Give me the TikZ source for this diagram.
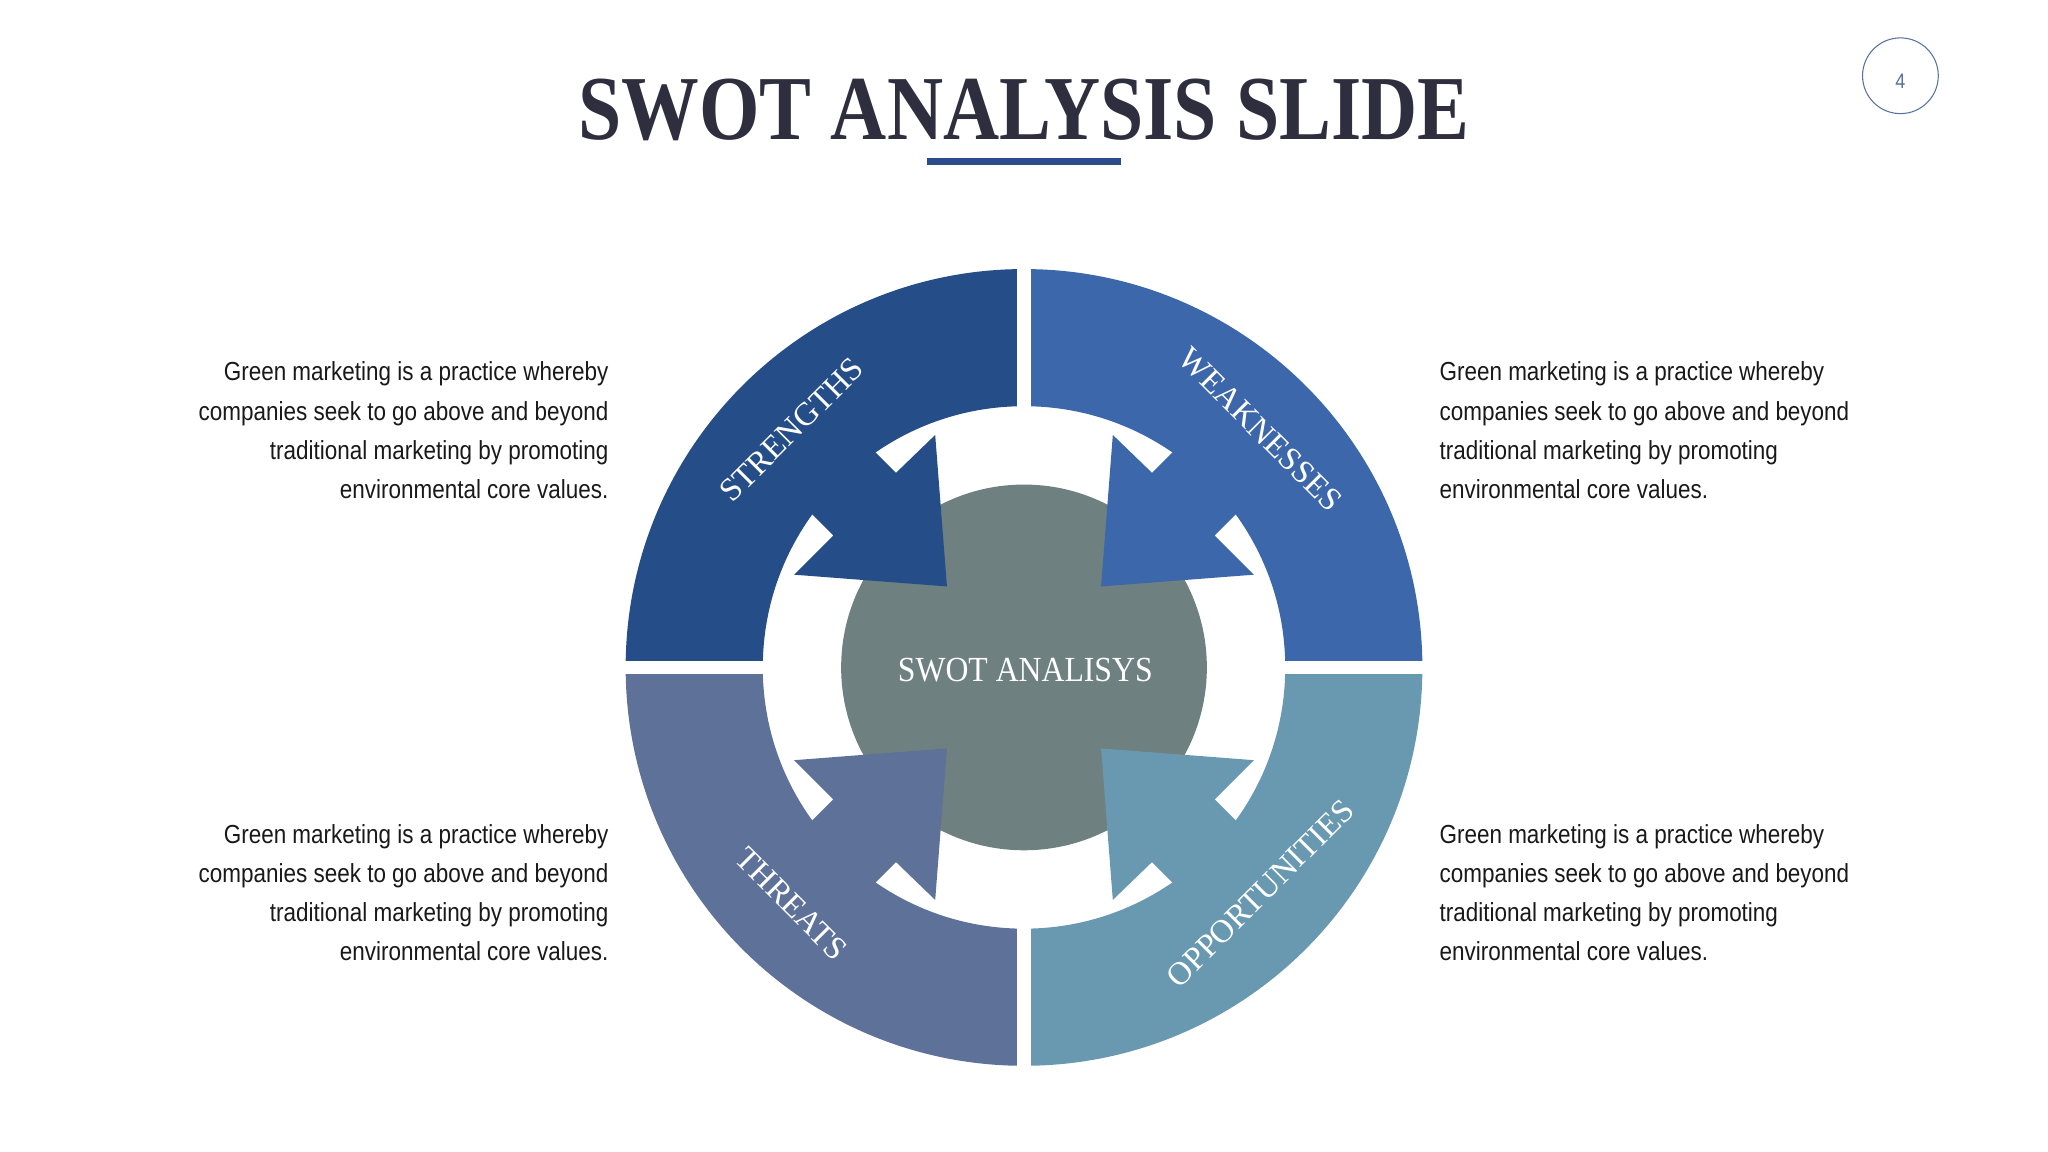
\documentclass[tikz,border=0pt]{standalone}
\usepackage{fontspec}
\setmainfont{Liberation Serif}
\newfontfamily\bodyf[FakeStretch=0.86]{Liberation Sans}
\newfontfamily\titlef[FakeStretch=0.85]{Liberation Serif}
\newfontfamily\centf[FakeStretch=0.9]{Liberation Serif}
\usetikzlibrary{calc}
\definecolor{cS}{HTML}{254E88}
\definecolor{cW}{HTML}{3D67AB}
\definecolor{cT}{HTML}{5E7299}
\definecolor{cO}{HTML}{6899B0}
\definecolor{cC}{HTML}{6E8080}
\definecolor{ctitle}{HTML}{2E2E3E}
\definecolor{cline}{HTML}{2B4C8A}
\tikzset{
 lbl/.style={text=white,font=\fontsize{25}{25}\selectfont},
 body/.style={font=\bodyf\fontsize{20}{30}\selectfont,text=black!90,inner sep=0pt},
 cut/.style={white,line width=10pt}
}
\begin{document}
\begin{tikzpicture}[x=1pt,y=-1pt]
\useasboundingbox[fill=white] (0,0) rectangle (1568,882);
\coordinate (C) at (784,511);
% title
\node[font=\titlef\bfseries\fontsize{70}{70}\selectfont,text=ctitle] (title) at (784,84) {SWOT ANALYSIS SLIDE};
\fill[cline] (710,121) rectangle (858,126);
\draw[cline!80,line width=0.8pt] (1455,58) circle[radius=29];
\node[font=\bodyf\fontsize{16}{16}\selectfont,text=cline!80] (pg) at (1455,62) {4};
% center
\fill[cC] (C) circle[radius=140];
\node[lbl,font=\centf\fontsize{27}{27}\selectfont] (center) at (785,513) {SWOT ANALISYS};
% arrows
\fill[cS] (725,449)--(608,440)--(638,410)--(610,382)--(658,334)--(686,362)--(716,333)--cycle;
\fill[cW] (843,449)--(960,440)--(930,410)--(958,382)--(910,334)--(882,362)--(852,333)--cycle;
\fill[cT] (725,573)--(608,582)--(638,612)--(610,640)--(658,688)--(686,660)--(716,689)--cycle;
\fill[cO] (843,573)--(960,582)--(930,612)--(958,640)--(910,688)--(882,660)--(852,689)--cycle;
% ring
\fill[cS] ($(C)+(180:305)$) arc[start angle=180,end angle=270,radius=305] -- ($(C)+(270:200)$) arc[start angle=270,end angle=180,radius=200] -- cycle;
\fill[cW] ($(C)+(270:305)$) arc[start angle=270,end angle=360,radius=305] -- ($(C)+(0:200)$) arc[start angle=360,end angle=270,radius=200] -- cycle;
\fill[cO] ($(C)+(0:305)$) arc[start angle=0,end angle=90,radius=305] -- ($(C)+(90:200)$) arc[start angle=90,end angle=0,radius=200] -- cycle;
\fill[cT] ($(C)+(90:305)$) arc[start angle=90,end angle=180,radius=305] -- ($(C)+(180:200)$) arc[start angle=180,end angle=90,radius=200] -- cycle;
\draw[cut] (784,200)--(784,316); \draw[cut] (784,706)--(784,822);
\draw[cut] (473,511)--(589,511); \draw[cut] (979,511)--(1095,511);
% labels
\node[lbl,rotate=45] (s) at (606,329) {STRENGTHS};
\node[lbl,rotate=-45] (w) at (965,329) {WEAKNESSES};
\node[lbl,rotate=-45] (t) at (606,692) {THREATS};
\node[lbl,rotate=45] (o) at (965,684) {OPPORTUNITIES};
% texts
\node[body,align=right,anchor=north east] (tl) at (466,277) {Green marketing is a practice whereby\\companies seek to go above and beyond\\traditional marketing by promoting\\environmental core values.};
\node[body,align=left,anchor=north west] (tr) at (1102,277) {Green marketing is a practice whereby\\companies seek to go above and beyond\\traditional marketing by promoting\\environmental core values.};
\node[body,align=right,anchor=north east] (bl) at (466,631) {Green marketing is a practice whereby\\companies seek to go above and beyond\\traditional marketing by promoting\\environmental core values.};
\node[body,align=left,anchor=north west] (br) at (1102,631) {Green marketing is a practice whereby\\companies seek to go above and beyond\\traditional marketing by promoting\\environmental core values.};
\end{tikzpicture}
\end{document}
